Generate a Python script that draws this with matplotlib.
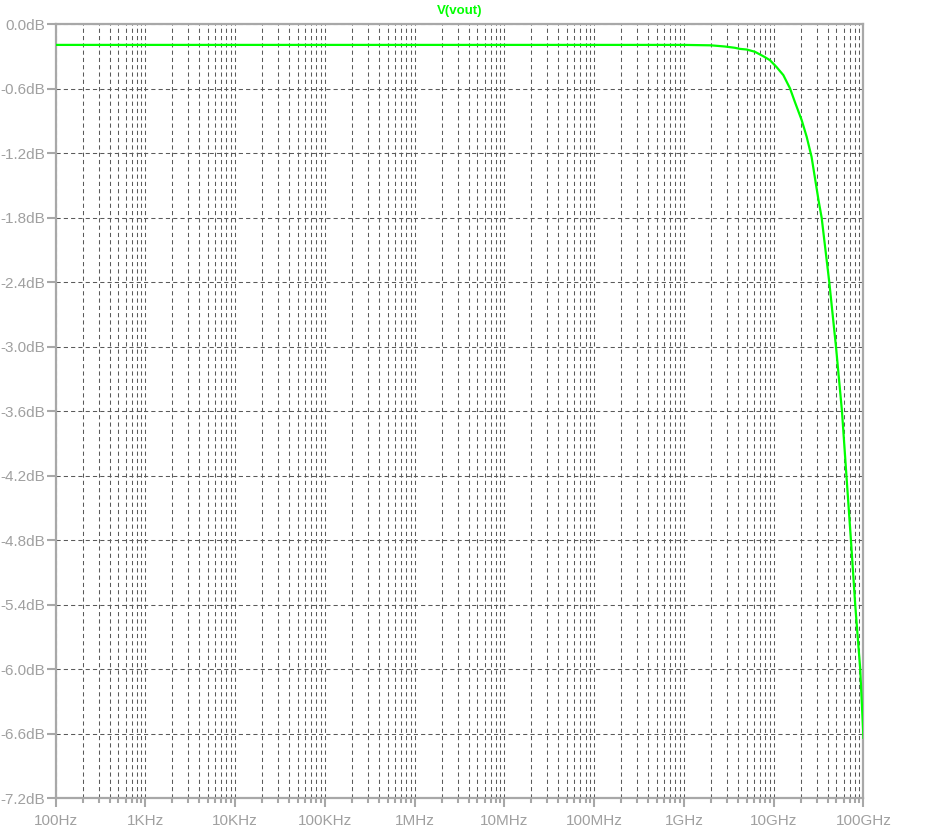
import matplotlib
matplotlib.use("Agg")
import matplotlib.pyplot as plt
import numpy as np
from matplotlib.ticker import FixedLocator, LogLocator, NullFormatter

# frequency response
freq_hz = [1e2, 1e9, 2.0e9, 2.86e9, 3.7e9, 4.2e9, 5.0e9, 6.17e9, 7.64e9, 9.07e9,
           10.7e9, 12.8e9, 15.2e9, 17.2e9, 20.5e9, 23.3e9, 26.4e9, 31.6e9,
           34.2e9, 41.6e9, 49.4e9, 57.6e9, 64.6e9, 72.5e9, 80.9e9, 92e9, 100e9]
vout_db = [-0.193, -0.193, -0.197, -0.208, -0.22, -0.230, -0.236, -0.257, -0.298,
           -0.335, -0.397, -0.474, -0.598, -0.723, -0.893, -1.048, -1.234, -1.64,
           -1.80, -2.40, -3.00, -3.60, -4.20, -4.80, -5.40, -6.00, -6.64]

x_ticks = [1e2, 1e3, 1e4, 1e5, 1e6, 1e7, 1e8, 1e9, 1e10, 1e11]
x_labels = ["100Hz", "1KHz", "10KHz", "100KHz", "1MHz", "10MHz", "100MHz",
            "1GHz", "10GHz", "100GHz"]
y_ticks = [0.0, -0.6, -1.2, -1.8, -2.4, -3.0, -3.6, -4.2, -4.8, -5.4, -6.0, -6.6, -7.2]

AXIS_GRAY = "#a8a8a8"
GRID_GRAY = "#5a5a5a"
TEXT_GRAY = "#a0a0a0"

plt.rcParams["font.family"] = ["Liberation Sans", "DejaVu Sans"]

fig = plt.figure(figsize=(9.36, 8.33), dpi=100)
ax = fig.add_axes([0.0595, 0.042, 0.863, 0.929])

ax.plot(freq_hz, vout_db, color="#00ff00", linewidth=1.6, zorder=3)

ax.set_xscale("log")
ax.set_xlim(1e2, 1e11)
ax.set_ylim(-7.2, 0.0)

ax.xaxis.set_major_locator(FixedLocator(x_ticks))
ax.set_xticklabels(x_labels)
ax.xaxis.set_minor_locator(LogLocator(base=10, subs=np.arange(2, 10), numticks=100))
ax.xaxis.set_minor_formatter(NullFormatter())
ax.set_yticks(y_ticks)
ax.set_yticklabels([f"{v:.1f}dB" for v in y_ticks])

ax.tick_params(axis="both", which="major", direction="out", length=6.5, width=1.5,
               color=AXIS_GRAY, labelcolor=TEXT_GRAY, labelsize=11)
ax.tick_params(axis="x", which="minor", direction="out", length=3.5, width=1.5,
               color=AXIS_GRAY)
ax.tick_params(axis="x", which="major", pad=5)
ax.tick_params(axis="y", which="major", pad=1)

grid_style = dict(color=GRID_GRAY, linestyle=(0, (4, 3)), linewidth=0.75)
ax.grid(True, which="both", axis="x", **grid_style)
ax.grid(True, which="major", axis="y", **grid_style)

for spine in ax.spines.values():
    spine.set_color(AXIS_GRAY)
    spine.set_linewidth(1.6)

fig.text(0.4915, 0.987, "V(vout)", color="#00ff00", fontsize=9.5,
         fontweight="bold", ha="center", va="center")

fig.savefig("out.png", dpi=100, facecolor="white")
